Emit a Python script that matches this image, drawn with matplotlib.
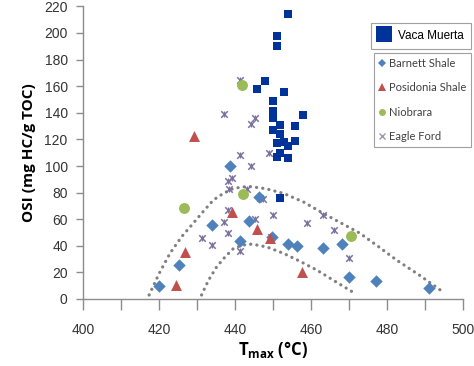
import matplotlib
matplotlib.use("Agg")
import matplotlib.pyplot as plt
from matplotlib.lines import Line2D
import numpy as np

# -----------------------------------------------------------------------
# Data (Tmax in degC, OSI in mg HC/g TOC)
# -----------------------------------------------------------------------

vaca_tmax = [453.9, 451.0, 451.0, 447.9, 445.9, 452.8, 449.9, 449.9, 449.9, 457.9,
             451.9, 455.9, 449.9, 451.9, 455.9, 451.0, 452.8, 453.9, 451.9, 451.0,
             453.9, 451.9]
vaca_osi = [214, 198, 190, 164, 158, 156, 149, 141, 136, 138,
            131, 130, 127, 124, 119, 117.5, 118, 115, 110, 107,
            106, 76]

barnett_tmax = [438.8, 446.2, 434.0, 443.6, 441.2, 425.3, 420.1, 449.8, 453.9, 456.2,
                463.2, 468.2, 470.1, 477.0, 491.1]
barnett_osi = [100, 77, 55.6, 58.4, 43.6, 25.8, 10, 46.8, 41.6, 39.8,
               38.3, 41, 16.5, 13.8, 8]

posidonia_tmax = [429.2, 439.3, 445.7, 449.2, 426.9, 424.6, 457.7]
posidonia_osi = [122.6, 65.6, 52.6, 45.6, 35.6, 10.3, 20.5]

niobrara_tmax = [441.9, 442.1, 426.7, 470.5]
niobrara_osi = [161, 78.7, 68.6, 47.6]

eagle_tmax = [441.3, 437.0, 445.2, 444.2, 441.2, 449.0, 444.2, 439.1, 438.2, 438.3,
              443.1, 438.2, 437.0, 438.2, 445.3, 447.4, 449.9, 431.2, 434.0, 441.2,
              449.5, 446.6, 459.0, 463.2, 466.1, 470.1]
eagle_osi = [164.7, 139, 136.3, 131.6, 108, 109.5, 100, 91, 88.7, 83,
             82.5, 66.7, 58, 50, 60, 75.2, 63.4, 46, 40.4, 36,
             46.8, 75.7, 57, 63, 51.9, 31]

# dotted envelope curves
outer_tmax = [417.4, 420.0, 422.9, 426.0, 429.0, 431.7, 434.3, 437.0, 439.6, 443.5,
              448.0, 452.7, 458.0, 463.2, 468.0, 472.9, 477.7, 482.5, 488.5, 494.0]
outer_osi = [3, 19, 34.4, 47, 56.9, 66, 74.4, 79.5, 83.2, 84.7,
             83, 79.5, 73, 64.4, 57, 49.4, 39.5, 29.3, 18, 6.8]
inner_tmax = [431.2, 433.0, 435.2, 437.5, 439.6, 442.0, 444.5, 448.5, 452.7, 457.0,
              461.5, 466.5, 471.8]
inner_osi = [3, 14, 24.3, 32, 38, 40.5, 41.3, 39, 34.4, 28.5,
             21.8, 13, 3.8]

# -----------------------------------------------------------------------
# Figure
# -----------------------------------------------------------------------

plt.rcParams["font.family"] = "Liberation Sans"
plt.rcParams["mathtext.fontset"] = "custom"
plt.rcParams["mathtext.bf"] = "Open Sans:bold"
plt.rcParams["mathtext.rm"] = "Open Sans:bold"

AXIS_GREY = "#8c8c8c"
EAGLE = "#7d71a0"

fig = plt.figure(figsize=(4.74, 3.66), dpi=100)
ax = fig.add_axes([83 / 474, 1 - 299 / 366, 380 / 474, 292.6 / 366])

dots = dict(color="#808080", linewidth=2.3, linestyle=(0, (0.05, 1.9)),
            dash_capstyle="round", zorder=1)
ax.plot(outer_tmax, outer_osi, **dots)
ax.plot(inner_tmax, inner_osi, **dots)

ax.scatter(eagle_tmax, eagle_osi, marker="x", s=22, color=EAGLE,
           linewidths=1.1, zorder=2, clip_on=False)
ax.scatter(eagle_tmax, eagle_osi, marker="|", s=20, color=EAGLE,
           linewidths=0.9, zorder=2, clip_on=False)
ax.scatter(vaca_tmax, vaca_osi, marker="s", s=36, color="#003399",
           linewidths=0, zorder=3, clip_on=False)
ax.scatter(barnett_tmax, barnett_osi, marker="D", s=40, color="#4f81bd",
           linewidths=0, zorder=3, clip_on=False)
ax.scatter(posidonia_tmax, posidonia_osi, marker="^", s=62, color="#c0504d",
           linewidths=0, zorder=3, clip_on=False)
ax.scatter(niobrara_tmax, niobrara_osi, marker="o", s=62, color="#9bbb59",
           linewidths=0, zorder=3, clip_on=False)

ax.set_xlim(400, 500)
ax.set_ylim(0, 220)
ax.set_xticks(np.arange(400, 501, 20))
ax.set_xticks(np.arange(400, 501, 10), minor=True)
ax.set_yticks(np.arange(0, 221, 20))

for side in ("top", "right"):
    ax.spines[side].set_visible(False)
for side in ("left", "bottom"):
    ax.spines[side].set_color(AXIS_GREY)
    ax.spines[side].set_linewidth(1.0)

ax.tick_params(which="both", direction="out", color=AXIS_GREY, width=1.0,
               labelsize=10, labelcolor="#333333")
ax.tick_params(axis="x", which="both", length=8, pad=9)
ax.tick_params(axis="y", length=5, pad=6)

ax.set_xlabel(r"T$_{\mathrm{max}}$ (°C)", fontsize=12, fontweight="bold",
              family="Open Sans", labelpad=2)
ax.set_ylabel("OSI (mg HC/g TOC)", fontsize=11, fontweight="bold",
              family="Open Sans", labelpad=6)

# two separate legend boxes
top_handles = [Line2D([], [], linestyle="none", marker="s", markersize=11,
                      color="#003399", markeredgewidth=0)]
leg1 = fig.legend(top_handles, ["Vaca Muerta"], loc="upper right",
                  bbox_to_anchor=(471 / 474, 1 - 22.5 / 366),
                  fancybox=False, edgecolor="#a0a0a0", framealpha=1,
                  prop={"family": "Liberation Sans", "size": 8.5},
                  handlelength=1.0, handletextpad=0.7, borderpad=0.6,
                  borderaxespad=0)
leg1.get_frame().set_linewidth(0.8)

bottom_handles = [
    Line2D([], [], linestyle="none", marker="D", markersize=4, color="#4f81bd",
           markeredgewidth=0),
    Line2D([], [], linestyle="none", marker="^", markersize=6, color="#c0504d",
           markeredgewidth=0),
    Line2D([], [], linestyle="none", marker="o", markersize=5, color="#9bbb59",
           markeredgewidth=0),
    Line2D([], [], linestyle="none", marker="x", markersize=4, color="#9a9aae",
           markeredgewidth=1.0),
]
leg2 = fig.legend(bottom_handles,
                  ["Barnett Shale", "Posidonia Shale", "Niobrara", "Eagle Ford"],
                  loc="upper right", bbox_to_anchor=(471 / 474, 1 - 53 / 366),
                  fancybox=False, edgecolor="#a0a0a0", framealpha=1,
                  prop={"family": "Lato", "size": 8},
                  handlelength=0.6, handletextpad=0.3, labelspacing=1.2,
                  borderpad=0.45, borderaxespad=0, labelcolor="#404040")
leg2.get_frame().set_linewidth(0.8)

fig.savefig("out.png", dpi=100)
